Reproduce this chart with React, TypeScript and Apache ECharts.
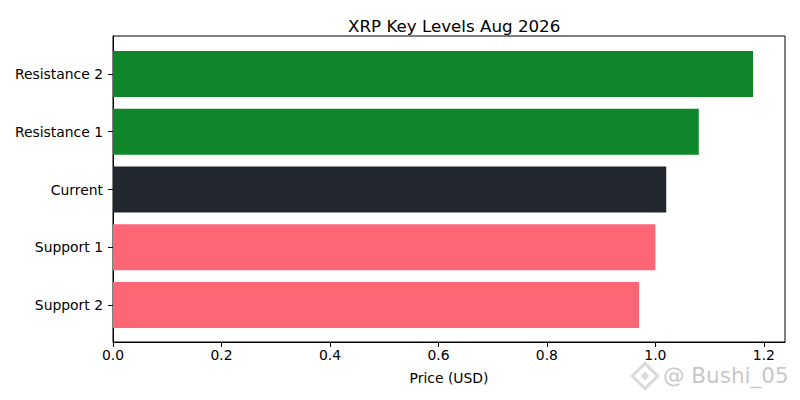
import React, { useEffect, useRef } from "react";
import * as echarts from "echarts";

const categories = ["Support 2", "Support 1", "Current", "Resistance 1", "Resistance 2"];
const prices = [0.97, 1.0, 1.02, 1.08, 1.18];
const barColors = ["#ff6675", "#ff6675", "#22262d", "#10862a", "#10862a"];
const xTicks = [0, 0.2, 0.4, 0.6, 0.8, 1.0, 1.2];

const FONT = "DejaVu Sans";

export default function App() {
  const ref = useRef<HTMLDivElement>(null);
  useEffect(() => {
    document.body.style.margin = "0";
    if (!ref.current) return;
    const chart = echarts.init(ref.current, undefined, { renderer: "svg" });
    const xMax = Math.max(...prices) * 1.05;
    chart.setOption({
      animation: false,
      backgroundColor: "#ffffff",
      textStyle: { fontFamily: FONT },
      title: {
        text: "XRP Key Levels Aug 2026",
        left: 343,
        top: 12,
        textStyle: { fontFamily: FONT, fontSize: 16.7, fontWeight: "normal", color: "#000" },
      },
      grid: [
        { left: 113, right: 15, top: 36, bottom: 58, show: true, borderColor: "#000", borderWidth: 1, backgroundColor: "transparent" },
        { left: 113, right: 15, top: 45, height: 289 },
      ],
      xAxis: [
        {
          type: "value",
          gridIndex: 0,
          min: 0,
          max: xMax,
          interval: 0.2,
          name: "Price (USD)",
          nameLocation: "middle",
          nameGap: 29,
          nameTextStyle: { fontFamily: FONT, fontSize: 13.9, color: "#000" },
          axisLine: { show: true, lineStyle: { color: "#000", width: 1 } },
          axisTick: { show: true, length: 5, inside: false, lineStyle: { color: "#000" }, customValues: xTicks },
          axisLabel: {
            customValues: xTicks,
            formatter: (v: number) => v.toFixed(1),
            fontFamily: FONT,
            fontSize: 13.9,
            color: "#000",
            margin: 6,
          },
          splitLine: { show: false },
        },
        { type: "value", gridIndex: 1, min: 0, max: xMax, show: false },
      ],
      yAxis: [
        {
          type: "value",
          gridIndex: 0,
          min: 0,
          max: 1,
          axisLine: { show: true, lineStyle: { color: "#000", width: 1 } },
          axisTick: { show: false },
          axisLabel: { show: false },
          splitLine: { show: false },
        },
        {
          type: "category",
          gridIndex: 1,
          data: categories,
          axisLine: { show: false },
          axisTick: { show: true, alignWithLabel: true, length: 5, lineStyle: { color: "#000" } },
          axisLabel: { fontFamily: FONT, fontSize: 13.9, color: "#000", margin: 10 },
          splitLine: { show: false },
        },
      ],
      series: [
        {
          type: "bar",
          xAxisIndex: 1,
          yAxisIndex: 1,
          barWidth: 46,
          data: prices.map((v, i) => ({ value: v, itemStyle: { color: barColors[i] } })),
        },
      ],
      graphic: [
        {
          type: "text",
          left: 663,
          top: 364,
          style: { text: "@ Bushi_05", fontFamily: FONT, fontSize: 21.5, fill: "rgba(150,150,150,0.55)" },
        },
        {
          type: "rect",
          x: 645,
          y: 376,
          rotation: Math.PI / 4,
          shape: { x: -9, y: -9, width: 18, height: 18 },
          style: { fill: "none", stroke: "rgba(170,170,170,0.45)", lineWidth: 3 },
        },
        {
          type: "rect",
          x: 645,
          y: 376,
          rotation: Math.PI / 4,
          shape: { x: -3, y: -3, width: 6, height: 6 },
          style: { fill: "rgba(170,170,170,0.45)" },
        },
      ],
    });
    return () => chart.dispose();
  }, []);
  return <div ref={ref} style={{ width: 800, height: 400 }} />;
}
